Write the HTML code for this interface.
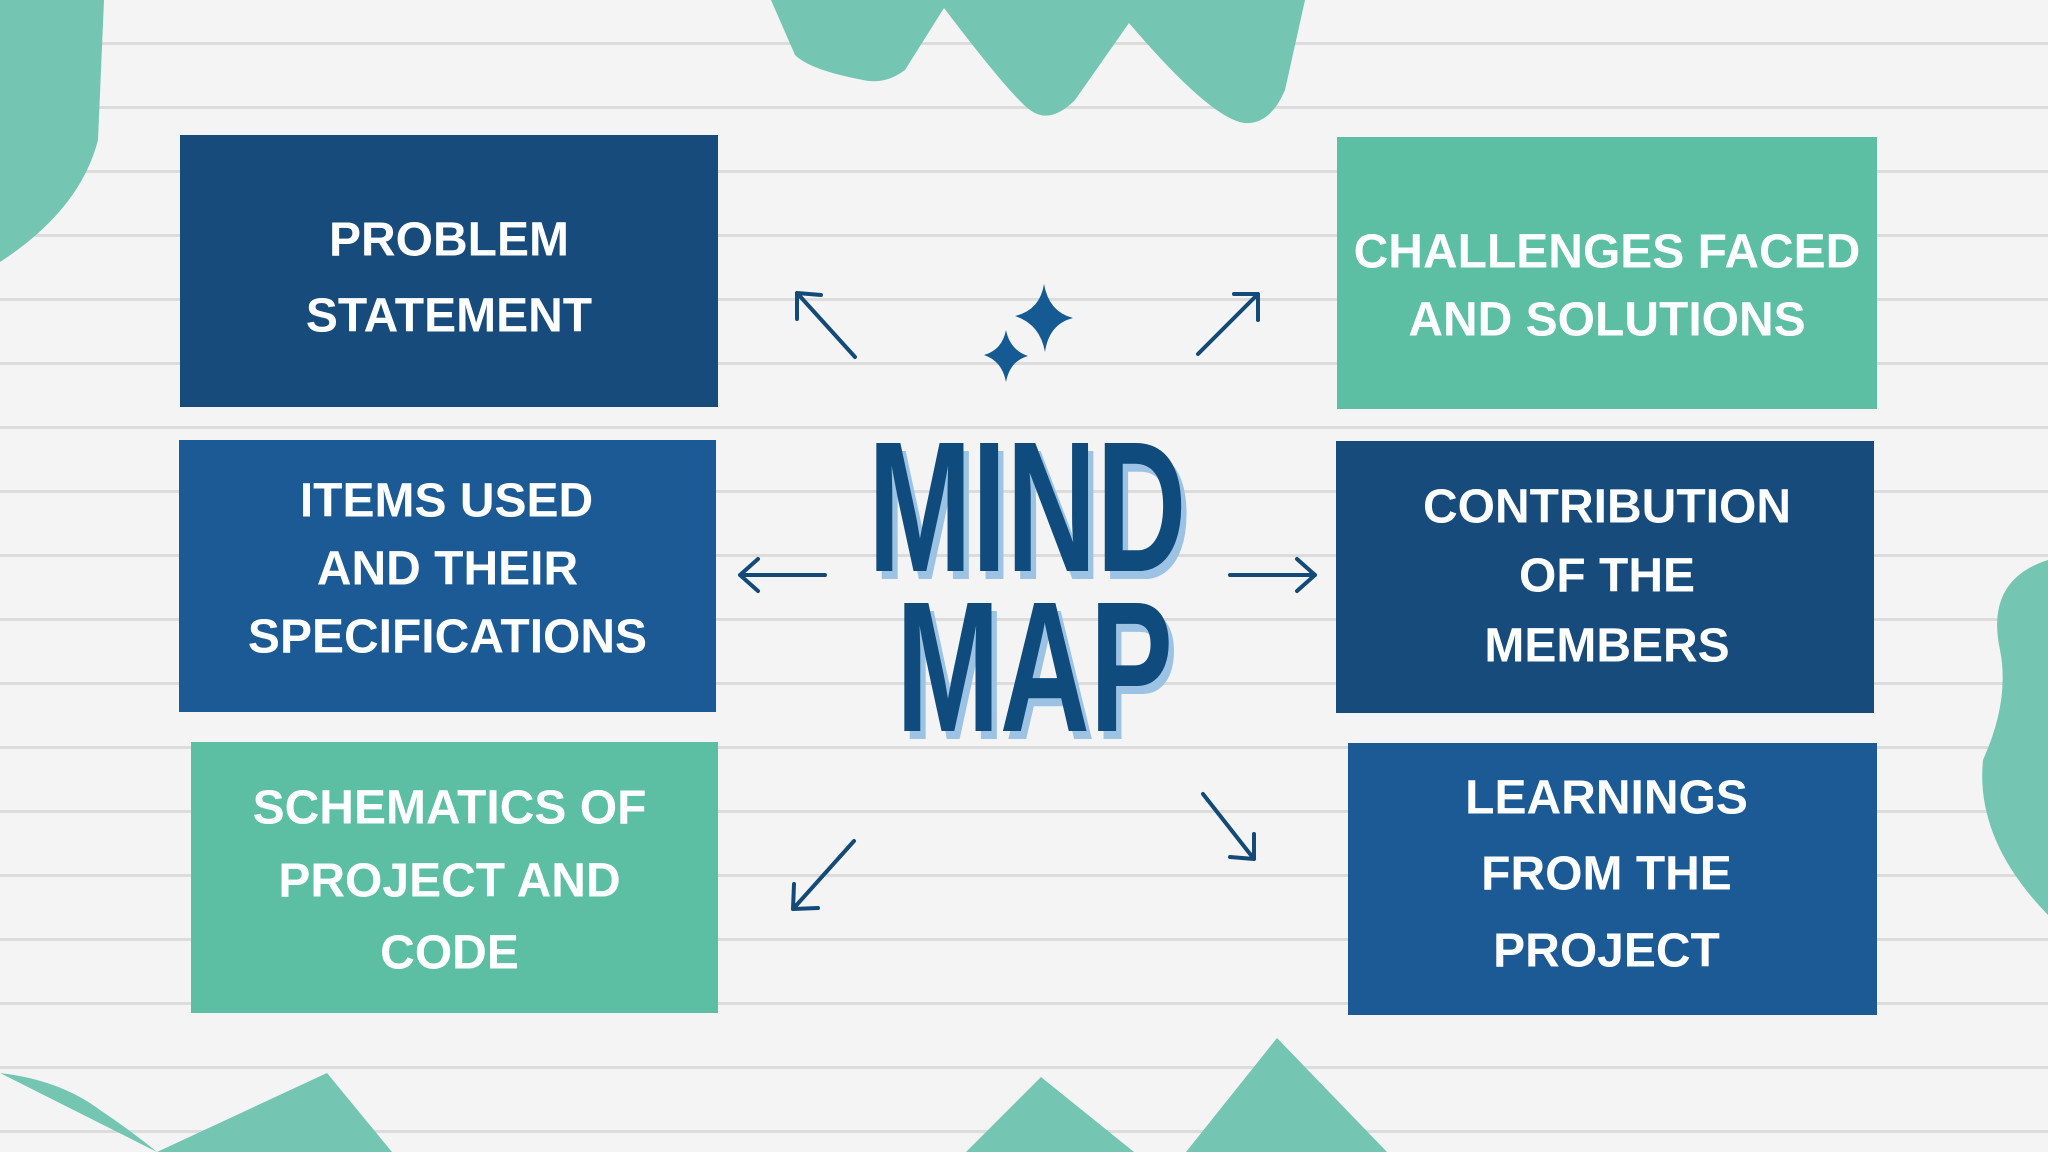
<!DOCTYPE html>
<html><head><meta charset="utf-8"><style>
*{margin:0;padding:0;box-sizing:border-box}
body{width:2048px;height:1152px;overflow:hidden;position:relative;background:#f4f4f4;font-family:"Liberation Sans",sans-serif}
.lines{position:absolute;left:0;top:0;width:2048px;height:1152px;background:repeating-linear-gradient(to bottom,transparent 0,transparent 42px,#dcdcdc 42px,#dcdcdc 45px,transparent 45px,transparent 64px)}
.box{position:absolute;color:#fff;font-weight:bold;font-size:48px;text-align:center}
.t{position:absolute;left:0;right:0;transform:translateY(-50%);white-space:nowrap}
.navy{background:#164b7c}.blue{background:#1b5a95}.teal{background:#5cbfa3}
.mm{position:absolute;font-weight:bold;font-size:186px;line-height:1;color:#0f4c7d;transform-origin:0 0;text-shadow:8px 8px 0 #9cc3e3;white-space:nowrap}
</style></head><body>
<div class="lines"></div>
<svg width="2048" height="1152" style="position:absolute;left:0;top:0">
<g fill="#74c5b1">
<path d="M771,0 L1305,0 L1285,90 Q1270,125 1244,123 Q1210,118 1129,23 L1075,100 Q1050,125 1030,110 Q1010,95 944,8 L905,70 Q885,85 863,80 Q810,70 795,55 Z"/>
<path d="M0,0 L104,0 L98,140 Q80,210 0,262 Z"/>
<path d="M2048,560 Q1985,580 2000,650 Q2010,700 1983,760 Q1975,840 2048,915 Z"/>
<path d="M0,1073 Q60,1080 100,1110 Q130,1130 157,1152 Z"/>
<path d="M157,1152 L327,1073 L392,1152 Z"/>
<path d="M966,1152 L1041,1077 L1134,1152 Z"/>
<path d="M1186,1152 L1277,1038 L1387,1152 Z"/>
</g>
<g stroke="#134a78" stroke-width="4" fill="none" stroke-linecap="round">
<path d="M855,357 L797,293 M797,293 L821,295 M797,293 L797,319"/>
<path d="M1198,354 L1258,294 M1258,294 L1234,294 M1258,294 L1258,320"/>
<path d="M825,575 L740,575 M740,575 L758,559 M740,575 L758,591"/>
<path d="M1230,575 L1315,575 M1315,575 L1297,559 M1315,575 L1297,591"/>
<path d="M854,841 L793,909 M793,909 L794,884 M793,909 L818,908"/>
<path d="M1203,794 L1254,859 M1254,859 L1230,857 M1254,859 L1254,834"/>
</g>
<g fill="#155a92">
<path d="M1044,284 Q1049,312 1073,318 Q1049,324 1045,352 Q1040,324 1015,316 Q1040,310 1044,284Z"/>
<path d="M1006,330 Q1010,350 1028,356 Q1010,361 1006,382 Q1002,361 984,355 Q1002,350 1006,330Z"/>
</g>
</svg>
<div class="box navy" style="left:180px;top:135px;width:538px;height:272px"><div class="t" style="top:105px">PROBLEM</div><div class="t" style="top:181px">STATEMENT</div></div>
<div class="box teal" style="left:1337px;top:137px;width:540px;height:272px"><div class="t" style="top:115px">CHALLENGES FACED</div><div class="t" style="top:183px">AND SOLUTIONS</div></div>
<div class="box blue" style="left:179px;top:440px;width:537px;height:272px"><div class="t" style="top:61px;left:-2px">ITEMS USED</div><div class="t" style="top:129px">AND THEIR</div><div class="t" style="top:197px">SPECIFICATIONS</div></div>
<div class="box navy" style="left:1336px;top:441px;width:538px;height:272px"><div class="t" style="top:66px;left:4px">CONTRIBUTION</div><div class="t" style="top:135px;left:4px">OF THE</div><div class="t" style="top:205px;left:4px">MEMBERS</div></div>
<div class="box teal" style="left:191px;top:742px;width:527px;height:271px"><div class="t" style="top:66px;left:-10px">SCHEMATICS OF</div><div class="t" style="top:139px;left:-10px">PROJECT AND</div><div class="t" style="top:211px;left:-10px">CODE</div></div>
<div class="box blue" style="left:1348px;top:743px;width:529px;height:272px"><div class="t" style="top:55px;left:-12px">LEARNINGS</div><div class="t" style="top:131px;left:-12px">FROM THE</div><div class="t" style="top:208px;left:-12px">PROJECT</div></div>
<div class="mm" style="left:868px;top:415px;transform:scaleX(0.67)">MIND</div>
<div class="mm" style="left:896px;top:575px;transform:scaleX(0.67)">MAP</div>
</body></html>
